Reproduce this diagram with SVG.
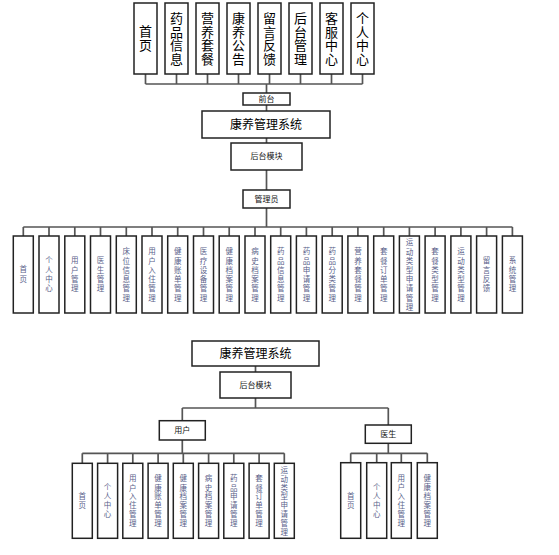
<svg xmlns="http://www.w3.org/2000/svg" width="559" height="555" viewBox="0 0 559 555">
<style>
text{font-family:"Liberation Sans","Noto Sans CJK SC",sans-serif;text-anchor:middle;dominant-baseline:central}
.b{fill:#fff;stroke:#222;stroke-width:1.5}
.t{font-size:13px;fill:#000}
.m{font-size:8px;fill:#111}
.h{font-size:12px;fill:#000}
.s{font-size:7.5px;fill:#5a5f8a}
.c{fill:none;stroke:#555;stroke-width:1.7}
</style>
<rect width="559" height="555" fill="#fff"/>
<g id="connectors">
<path class="c" d="M145.5 74V84M176.5 74V84M207.5 74V84M238.5 74V84M269.5 74V84M300.5 74V84M331.5 74V84M362.5 74V84M145.5 84H362.5M266.5 84V93M266.5 105V111M266.5 138V143M266.5 170V190M266.5 208V227M23.3 227H512.4"/>
<path class="c" d="M23.3 227V236M49 227V236M74.8 227V236M100.5 227V236M126.3 227V236M152 227V236M177.7 227V236M203.5 227V236M229.2 227V236M255 227V236M280.7 227V236M306.4 227V236M332.2 227V236M357.9 227V236M383.7 227V236M409.4 227V236M435.1 227V236M460.9 227V236M486.6 227V236M512.4 227V236"/>
<path class="c" d="M255.5 366V372M255.5 398V408M182.3 408H388.3M182.3 408V420.7M388.3 408V425M182.3 440V453.3M82.3 453.3H284.3M388.3 443.3V453.3M350.7 453.3H427.3"/>
<path class="c" d="M82.3 453.3V463.3M107.6 453.3V463.3M132.8 453.3V463.3M158.1 453.3V463.3M183.3 453.3V463.3M208.6 453.3V463.3M233.8 453.3V463.3M259.1 453.3V463.3M284.3 453.3V463.3M350.7 453.3V462.7M376.7 453.3V462.7M401.3 453.3V462.7M427.3 453.3V462.7"/>
</g>
<g id="top-nav">
<g id="n-shouye"><rect class="b" x="134" y="3" width="23" height="71"/><text class="t" x="145.5" y="31.75">首<tspan x="145.5" dy="13.5">页</tspan></text></g>
<g id="n-yaopin"><rect class="b" x="165" y="3" width="23" height="71"/><text class="t" x="176.5" y="18.25">药<tspan x="176.5" dy="13.5">品</tspan><tspan x="176.5" dy="13.5">信</tspan><tspan x="176.5" dy="13.5">息</tspan></text></g>
<g id="n-yingyang"><rect class="b" x="196" y="3" width="23" height="71"/><text class="t" x="207.5" y="18.25">营<tspan x="207.5" dy="13.5">养</tspan><tspan x="207.5" dy="13.5">套</tspan><tspan x="207.5" dy="13.5">餐</tspan></text></g>
<g id="n-gonggao"><rect class="b" x="227" y="3" width="23" height="71"/><text class="t" x="238.5" y="18.25">康<tspan x="238.5" dy="13.5">养</tspan><tspan x="238.5" dy="13.5">公</tspan><tspan x="238.5" dy="13.5">告</tspan></text></g>
<g id="n-liuyan"><rect class="b" x="258" y="3" width="23" height="71"/><text class="t" x="269.5" y="18.25">留<tspan x="269.5" dy="13.5">言</tspan><tspan x="269.5" dy="13.5">反</tspan><tspan x="269.5" dy="13.5">馈</tspan></text></g>
<g id="n-houtai"><rect class="b" x="289" y="3" width="23" height="71"/><text class="t" x="300.5" y="18.25">后<tspan x="300.5" dy="13.5">台</tspan><tspan x="300.5" dy="13.5">管</tspan><tspan x="300.5" dy="13.5">理</tspan></text></g>
<g id="n-kefu"><rect class="b" x="320" y="3" width="23" height="71"/><text class="t" x="331.5" y="18.25">客<tspan x="331.5" dy="13.5">服</tspan><tspan x="331.5" dy="13.5">中</tspan><tspan x="331.5" dy="13.5">心</tspan></text></g>
<g id="n-geren"><rect class="b" x="351" y="3" width="23" height="71"/><text class="t" x="362.5" y="18.25">个<tspan x="362.5" dy="13.5">人</tspan><tspan x="362.5" dy="13.5">中</tspan><tspan x="362.5" dy="13.5">心</tspan></text></g>
</g>
<g id="n-qiantai"><rect class="b" x="243" y="93" width="47" height="12"/><text class="m" x="266.5" y="99">前台</text></g>
<g id="n-system1"><rect class="b" x="202" y="111" width="128" height="27"/><text class="h" x="266" y="124.5">康养管理系统</text></g>
<g id="n-backend1"><rect class="b" x="231" y="143" width="71" height="27"/><text class="m" x="266.5" y="156.5">后台模块</text></g>
<g id="n-admin"><rect class="b" x="243" y="190" width="47" height="18"/><text class="m" x="266.5" y="199">管理员</text></g>
<g id="admin-modules">
<g id="a1"><rect class="b" x="13.3" y="236" width="20" height="77"/><text class="s" x="23.3" y="269.9">首<tspan x="23.3" dy="9.2">页</tspan></text></g>
<g id="a2"><rect class="b" x="39" y="236" width="20" height="77"/><text class="s" x="49" y="260.7">个<tspan x="49" dy="9.2">人</tspan><tspan x="49" dy="9.2">中</tspan><tspan x="49" dy="9.2">心</tspan></text></g>
<g id="a3"><rect class="b" x="64.8" y="236" width="20" height="77"/><text class="s" x="74.8" y="260.7">用<tspan x="74.8" dy="9.2">户</tspan><tspan x="74.8" dy="9.2">管</tspan><tspan x="74.8" dy="9.2">理</tspan></text></g>
<g id="a4"><rect class="b" x="90.5" y="236" width="20" height="77"/><text class="s" x="100.5" y="260.7">医<tspan x="100.5" dy="9.2">生</tspan><tspan x="100.5" dy="9.2">管</tspan><tspan x="100.5" dy="9.2">理</tspan></text></g>
<g id="a5"><rect class="b" x="116.3" y="236" width="20" height="77"/><text class="s" x="126.3" y="251.5">床<tspan x="126.3" dy="9.2">位</tspan><tspan x="126.3" dy="9.2">信</tspan><tspan x="126.3" dy="9.2">息</tspan><tspan x="126.3" dy="9.2">管</tspan><tspan x="126.3" dy="9.2">理</tspan></text></g>
<g id="a6"><rect class="b" x="142" y="236" width="20" height="77"/><text class="s" x="152" y="251.5">用<tspan x="152" dy="9.2">户</tspan><tspan x="152" dy="9.2">入</tspan><tspan x="152" dy="9.2">住</tspan><tspan x="152" dy="9.2">管</tspan><tspan x="152" dy="9.2">理</tspan></text></g>
<g id="a7"><rect class="b" x="167.7" y="236" width="20" height="77"/><text class="s" x="177.7" y="251.5">健<tspan x="177.7" dy="9.2">康</tspan><tspan x="177.7" dy="9.2">账</tspan><tspan x="177.7" dy="9.2">单</tspan><tspan x="177.7" dy="9.2">管</tspan><tspan x="177.7" dy="9.2">理</tspan></text></g>
<g id="a8"><rect class="b" x="193.5" y="236" width="20" height="77"/><text class="s" x="203.5" y="251.5">医<tspan x="203.5" dy="9.2">疗</tspan><tspan x="203.5" dy="9.2">设</tspan><tspan x="203.5" dy="9.2">备</tspan><tspan x="203.5" dy="9.2">管</tspan><tspan x="203.5" dy="9.2">理</tspan></text></g>
<g id="a9"><rect class="b" x="219.2" y="236" width="20" height="77"/><text class="s" x="229.2" y="251.5">健<tspan x="229.2" dy="9.2">康</tspan><tspan x="229.2" dy="9.2">档</tspan><tspan x="229.2" dy="9.2">案</tspan><tspan x="229.2" dy="9.2">管</tspan><tspan x="229.2" dy="9.2">理</tspan></text></g>
<g id="a10"><rect class="b" x="245" y="236" width="20" height="77"/><text class="s" x="255" y="251.5">病<tspan x="255" dy="9.2">史</tspan><tspan x="255" dy="9.2">档</tspan><tspan x="255" dy="9.2">案</tspan><tspan x="255" dy="9.2">管</tspan><tspan x="255" dy="9.2">理</tspan></text></g>
<g id="a11"><rect class="b" x="270.7" y="236" width="20" height="77"/><text class="s" x="280.7" y="251.5">药<tspan x="280.7" dy="9.2">品</tspan><tspan x="280.7" dy="9.2">信</tspan><tspan x="280.7" dy="9.2">息</tspan><tspan x="280.7" dy="9.2">管</tspan><tspan x="280.7" dy="9.2">理</tspan></text></g>
<g id="a12"><rect class="b" x="296.4" y="236" width="20" height="77"/><text class="s" x="306.4" y="251.5">药<tspan x="306.4" dy="9.2">品</tspan><tspan x="306.4" dy="9.2">申</tspan><tspan x="306.4" dy="9.2">请</tspan><tspan x="306.4" dy="9.2">管</tspan><tspan x="306.4" dy="9.2">理</tspan></text></g>
<g id="a13"><rect class="b" x="322.2" y="236" width="20" height="77"/><text class="s" x="332.2" y="251.5">药<tspan x="332.2" dy="9.2">品</tspan><tspan x="332.2" dy="9.2">分</tspan><tspan x="332.2" dy="9.2">类</tspan><tspan x="332.2" dy="9.2">管</tspan><tspan x="332.2" dy="9.2">理</tspan></text></g>
<g id="a14"><rect class="b" x="347.9" y="236" width="20" height="77"/><text class="s" x="357.9" y="251.5">营<tspan x="357.9" dy="9.2">养</tspan><tspan x="357.9" dy="9.2">套</tspan><tspan x="357.9" dy="9.2">餐</tspan><tspan x="357.9" dy="9.2">管</tspan><tspan x="357.9" dy="9.2">理</tspan></text></g>
<g id="a15"><rect class="b" x="373.7" y="236" width="20" height="77"/><text class="s" x="383.7" y="251.5">套<tspan x="383.7" dy="9.2">餐</tspan><tspan x="383.7" dy="9.2">订</tspan><tspan x="383.7" dy="9.2">单</tspan><tspan x="383.7" dy="9.2">管</tspan><tspan x="383.7" dy="9.2">理</tspan></text></g>
<g id="a16"><rect class="b" x="399.4" y="236" width="20" height="77"/><text class="s" x="409.4" y="242.3">运<tspan x="409.4" dy="9.2">动</tspan><tspan x="409.4" dy="9.2">类</tspan><tspan x="409.4" dy="9.2">型</tspan><tspan x="409.4" dy="9.2">申</tspan><tspan x="409.4" dy="9.2">请</tspan><tspan x="409.4" dy="9.2">管</tspan><tspan x="409.4" dy="9.2">理</tspan></text></g>
<g id="a17"><rect class="b" x="425.1" y="236" width="20" height="77"/><text class="s" x="435.1" y="251.5">套<tspan x="435.1" dy="9.2">餐</tspan><tspan x="435.1" dy="9.2">类</tspan><tspan x="435.1" dy="9.2">型</tspan><tspan x="435.1" dy="9.2">管</tspan><tspan x="435.1" dy="9.2">理</tspan></text></g>
<g id="a18"><rect class="b" x="450.9" y="236" width="20" height="77"/><text class="s" x="460.9" y="251.5">运<tspan x="460.9" dy="9.2">动</tspan><tspan x="460.9" dy="9.2">类</tspan><tspan x="460.9" dy="9.2">型</tspan><tspan x="460.9" dy="9.2">管</tspan><tspan x="460.9" dy="9.2">理</tspan></text></g>
<g id="a19"><rect class="b" x="476.6" y="236" width="20" height="77"/><text class="s" x="486.6" y="260.7">留<tspan x="486.6" dy="9.2">言</tspan><tspan x="486.6" dy="9.2">反</tspan><tspan x="486.6" dy="9.2">馈</tspan></text></g>
<g id="a20"><rect class="b" x="502.4" y="236" width="20" height="77"/><text class="s" x="512.4" y="260.7">系<tspan x="512.4" dy="9.2">统</tspan><tspan x="512.4" dy="9.2">管</tspan><tspan x="512.4" dy="9.2">理</tspan></text></g>
</g>
<g id="n-system2"><rect class="b" x="192" y="341" width="127" height="25"/><text class="h" x="255.5" y="353.5">康养管理系统</text></g>
<g id="n-backend2"><rect class="b" x="220" y="372" width="71" height="26"/><text class="m" x="255.5" y="385">后台模块</text></g>
<g id="n-user"><rect class="b" x="159.3" y="420.7" width="46" height="19.3"/><text class="m" x="182.3" y="430.3">用户</text></g>
<g id="n-doctor"><rect class="b" x="365.3" y="425" width="46" height="18.3"/><text class="m" x="388.3" y="434.2">医生</text></g>
<g id="user-modules">
<g id="u1"><rect class="b" x="72.3" y="463.3" width="20" height="75"/><text class="s" x="82.3" y="496.4">首<tspan x="82.3" dy="8.8">页</tspan></text></g>
<g id="u2"><rect class="b" x="97.6" y="463.3" width="20" height="75"/><text class="s" x="107.6" y="487.6">个<tspan x="107.6" dy="8.8">人</tspan><tspan x="107.6" dy="8.8">中</tspan><tspan x="107.6" dy="8.8">心</tspan></text></g>
<g id="u3"><rect class="b" x="122.8" y="463.3" width="20" height="75"/><text class="s" x="132.8" y="478.8">用<tspan x="132.8" dy="8.8">户</tspan><tspan x="132.8" dy="8.8">入</tspan><tspan x="132.8" dy="8.8">住</tspan><tspan x="132.8" dy="8.8">管</tspan><tspan x="132.8" dy="8.8">理</tspan></text></g>
<g id="u4"><rect class="b" x="148.1" y="463.3" width="20" height="75"/><text class="s" x="158.1" y="478.8">健<tspan x="158.1" dy="8.8">康</tspan><tspan x="158.1" dy="8.8">账</tspan><tspan x="158.1" dy="8.8">单</tspan><tspan x="158.1" dy="8.8">管</tspan><tspan x="158.1" dy="8.8">理</tspan></text></g>
<g id="u5"><rect class="b" x="173.3" y="463.3" width="20" height="75"/><text class="s" x="183.3" y="478.8">健<tspan x="183.3" dy="8.8">康</tspan><tspan x="183.3" dy="8.8">档</tspan><tspan x="183.3" dy="8.8">案</tspan><tspan x="183.3" dy="8.8">管</tspan><tspan x="183.3" dy="8.8">理</tspan></text></g>
<g id="u6"><rect class="b" x="198.6" y="463.3" width="20" height="75"/><text class="s" x="208.6" y="478.8">病<tspan x="208.6" dy="8.8">史</tspan><tspan x="208.6" dy="8.8">档</tspan><tspan x="208.6" dy="8.8">案</tspan><tspan x="208.6" dy="8.8">管</tspan><tspan x="208.6" dy="8.8">理</tspan></text></g>
<g id="u7"><rect class="b" x="223.8" y="463.3" width="20" height="75"/><text class="s" x="233.8" y="478.8">药<tspan x="233.8" dy="8.8">品</tspan><tspan x="233.8" dy="8.8">申</tspan><tspan x="233.8" dy="8.8">请</tspan><tspan x="233.8" dy="8.8">管</tspan><tspan x="233.8" dy="8.8">理</tspan></text></g>
<g id="u8"><rect class="b" x="249.1" y="463.3" width="20" height="75"/><text class="s" x="259.1" y="478.8">套<tspan x="259.1" dy="8.8">餐</tspan><tspan x="259.1" dy="8.8">订</tspan><tspan x="259.1" dy="8.8">单</tspan><tspan x="259.1" dy="8.8">管</tspan><tspan x="259.1" dy="8.8">理</tspan></text></g>
<g id="u9"><rect class="b" x="274.3" y="463.3" width="20" height="75"/><text class="s" x="284.3" y="470">运<tspan x="284.3" dy="8.8">动</tspan><tspan x="284.3" dy="8.8">类</tspan><tspan x="284.3" dy="8.8">型</tspan><tspan x="284.3" dy="8.8">申</tspan><tspan x="284.3" dy="8.8">请</tspan><tspan x="284.3" dy="8.8">管</tspan><tspan x="284.3" dy="8.8">理</tspan></text></g>
</g>
<g id="doctor-modules">
<g id="d1"><rect class="b" x="340.7" y="462.7" width="20" height="75.6"/><text class="s" x="350.7" y="496.1">首<tspan x="350.7" dy="8.8">页</tspan></text></g>
<g id="d2"><rect class="b" x="366.7" y="462.7" width="20" height="75.6"/><text class="s" x="376.7" y="487.3">个<tspan x="376.7" dy="8.8">人</tspan><tspan x="376.7" dy="8.8">中</tspan><tspan x="376.7" dy="8.8">心</tspan></text></g>
<g id="d3"><rect class="b" x="391.3" y="462.7" width="20" height="75.6"/><text class="s" x="401.3" y="478.5">用<tspan x="401.3" dy="8.8">户</tspan><tspan x="401.3" dy="8.8">入</tspan><tspan x="401.3" dy="8.8">住</tspan><tspan x="401.3" dy="8.8">管</tspan><tspan x="401.3" dy="8.8">理</tspan></text></g>
<g id="d4"><rect class="b" x="417.3" y="462.7" width="20" height="75.6"/><text class="s" x="427.3" y="478.5">健<tspan x="427.3" dy="8.8">康</tspan><tspan x="427.3" dy="8.8">档</tspan><tspan x="427.3" dy="8.8">案</tspan><tspan x="427.3" dy="8.8">管</tspan><tspan x="427.3" dy="8.8">理</tspan></text></g>
</g>
</svg>
